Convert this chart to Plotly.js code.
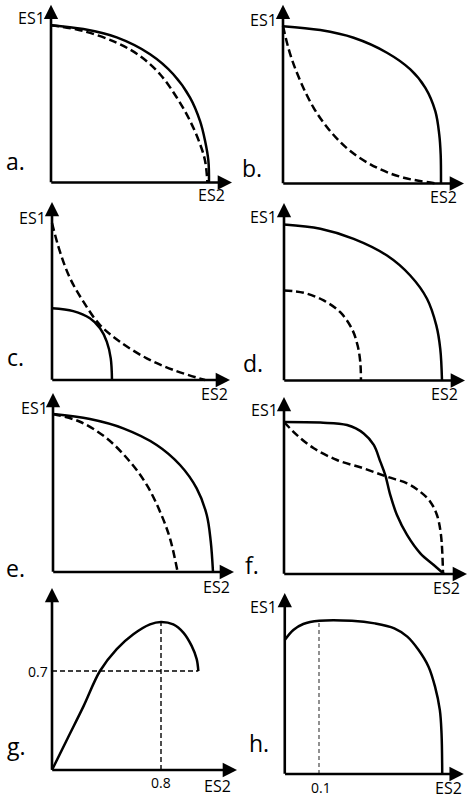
<!DOCTYPE html>
<html>
<head>
<meta charset="utf-8">
<script src="https://cdn.plot.ly/plotly-3.0.1.min.js"></script>
<style>
  html, body { margin: 0; padding: 0; background: #fff; }
  #chart { width: 474px; height: 799px; }
</style>
</head>
<body>
<div id="chart"></div>
<script>
// panel labels
var panelLetters = ["a.", "b.", "c.", "d.", "e.", "f.", "g.", "h."];
var yLabel = "ES1";
var xLabel = "ES2";

// a.
var aSolidX = [0, 0.205, 0.416, 0.627, 0.774, 0.880, 0.943, 0.975, 0.996, 1.0];
var aSolidY = [1, 0.975, 0.922, 0.815, 0.688, 0.540, 0.392, 0.266, 0.139, 0];
var aDashX = [0, 0.205, 0.416, 0.563, 0.690, 0.796, 0.880, 0.943, 0.975, 0.99];
var aDashY = [1, 0.962, 0.888, 0.804, 0.688, 0.540, 0.392, 0.245, 0.139, 0];

// b.
var bSolidX = [0, 0.236, 0.447, 0.658, 0.806, 0.901, 0.964, 0.989, 0.998, 1.0];
var bSolidY = [1, 0.975, 0.926, 0.831, 0.725, 0.608, 0.460, 0.311, 0.184, 0];
var bDashX = [0, 0.046, 0.110, 0.194, 0.299, 0.426, 0.595, 0.764, 0.975];
var bDashY = [1, 0.820, 0.651, 0.481, 0.333, 0.206, 0.100, 0.037, 0];

// c.
var cSolidX = [0, 0.139, 0.248, 0.314, 0.358, 0.384, 0.392];
var cSolidY = [0.457, 0.439, 0.393, 0.329, 0.244, 0.138, 0];
var cDashX = [0, 0.052, 0.118, 0.205, 0.314, 0.444, 0.619, 0.793, 1.0];
var cDashY = [1, 0.817, 0.648, 0.499, 0.350, 0.244, 0.138, 0.064, 0];

// d.
var dSolidX = [0, 0.230, 0.441, 0.652, 0.799, 0.905, 0.964, 0.989, 1.0];
var dSolidY = [1, 0.973, 0.908, 0.801, 0.673, 0.524, 0.353, 0.203, 0];
var dDashX = [0, 0.125, 0.251, 0.356, 0.430, 0.466, 0.483, 0.487];
var dDashY = [0.577, 0.562, 0.513, 0.438, 0.331, 0.224, 0.117, 0];

// e.
var eSolidX = [0, 0.231, 0.439, 0.648, 0.794, 0.898, 0.961, 0.986, 1.0];
var eSolidY = [1, 0.968, 0.909, 0.804, 0.677, 0.529, 0.361, 0.192, 0];
var eDashX = [0, 0.169, 0.336, 0.481, 0.586, 0.669, 0.731, 0.779];
var eDashY = [1, 0.951, 0.846, 0.698, 0.551, 0.382, 0.213, 0];

// f.
var fSolidX = [0, 0.227, 0.394, 0.498, 0.561, 0.602, 0.633, 0.664, 0.706, 0.769, 0.852, 0.936, 1.0];
var fSolidY = [1, 0.996, 0.980, 0.925, 0.849, 0.739, 0.651, 0.520, 0.388, 0.257, 0.136, 0.059, 0];
var fDashX = [0, 0.081, 0.186, 0.331, 0.498, 0.644, 0.769, 0.852, 0.914, 0.956, 0.981, 0.994];
var fDashY = [1, 0.914, 0.827, 0.750, 0.695, 0.640, 0.597, 0.541, 0.476, 0.388, 0.257, 0];

// g.
var gSolidX = [0, 0.115, 0.230, 0.352, 0.475, 0.597, 0.719, 0.800, 0.890, 0.964, 1.025, 1.062, 1.074];
var gSolidY = [0, 0.225, 0.448, 0.700, 0.855, 0.960, 1.030, 1.047, 1.030, 0.972, 0.878, 0.784, 0.700];
var gGuideHX = [0, 1.074];
var gGuideHY = [0.7, 0.7];
var gGuideVX = [0.8, 0.8];
var gGuideVY = [0, 1.047];
var gTickLabels = ["0.7", "0.8"];

// h.
var hSolidX = [0, 0.025, 0.054, 0.101, 0.196, 0.263, 0.320, 0.358, 0.391, 0.420, 0.439, 0.453, 0.458, 0.460];
var hSolidY = [0.870, 0.935, 0.974, 0.995, 0.995, 0.978, 0.946, 0.892, 0.805, 0.697, 0.567, 0.416, 0.264, 0];
var hGuideX = [0.1, 0.1];
var hGuideY = [0, 0.995];
var hTickLabels = ["0.1"];

// page geometry (pixels): origin, pixels per unit, arrow tips
var W = 474, H = 799;
var geom = [
  { ox: 51,  oy: 182.5, ux: 158,    uy: 158,   tipX: 232, tipY: 4 },
  { ox: 283, oy: 183.5, ux: 158,    uy: 158,   tipX: 464, tipY: 4 },
  { ox: 52,  oy: 380,   ux: 153,    uy: 157,   tipX: 230, tipY: 202 },
  { ox: 284, oy: 380.5, ux: 158,    uy: 156,   tipX: 465, tipY: 203 },
  { ox: 53,  oy: 572,   ux: 160,    uy: 158,   tipX: 234, tipY: 393 },
  { ox: 284, oy: 574,   ux: 160,    uy: 152,   tipX: 467, tipY: 397 },
  { ox: 52,  oy: 770,   ux: 136.25, uy: 141.4, tipX: 237, tipY: 588 },
  { ox: 285, oy: 774,   ux: 350,    uy: 154,   tipX: 468, tipY: 593 }
];

// label placement (pixel centres)
var yLabelPos = [[31.5, 18.5], [263, 19.5], [32.5, 218], [263.5, 217], [34, 408], [264, 410], null, [263, 607]];
var xLabelPos = [[211, 195], [443, 197], [214.5, 394], [444, 394], [216, 587], [446, 588], [217, 786], [448, 788]];
var letterPos = [[15, 161], [252, 168], [15, 357], [253, 363], [15, 568], [251.5, 565], [16.5, 746], [258.5, 743]];
var tickPos = { g: [[37.5, 671], [161, 782]], h: [[321, 787]] };

var FONT = "Open Sans, Liberation Sans, sans-serif";
var LW = 2.5;
var DASH = "8px,4px";

function px(x) { return x / W; }
function py(y) { return 1 - y / H; }
function suffix(i) { return i === 0 ? "" : String(i + 1); }

var curves = [
  [0, aSolidX, aSolidY, "solid"], [0, aDashX, aDashY, DASH],
  [1, bSolidX, bSolidY, "solid"], [1, bDashX, bDashY, DASH],
  [2, cSolidX, cSolidY, "solid"], [2, cDashX, cDashY, DASH],
  [3, dSolidX, dSolidY, "solid"], [3, dDashX, dDashY, DASH],
  [4, eSolidX, eSolidY, "solid"], [4, eDashX, eDashY, DASH],
  [5, fSolidX, fSolidY, "solid"], [5, fDashX, fDashY, DASH],
  [6, gSolidX, gSolidY, "solid"],
  [7, hSolidX, hSolidY, "solid"]
];

var data = curves.map(function (c) {
  var s = suffix(c[0]);
  return {
    x: c[1], y: c[2], xaxis: "x" + s, yaxis: "y" + s,
    type: "scatter", mode: "lines", hoverinfo: "skip",
    line: { color: "#000", width: LW, dash: c[3], shape: "spline", smoothing: 1 }
  };
});

// guide lines
data.push({ x: gGuideHX, y: gGuideHY, xaxis: "x7", yaxis: "y7", mode: "lines",
  line: { color: "#000", width: 1.4, dash: "5px,3px" } });
data.push({ x: gGuideVX, y: gGuideVY, xaxis: "x7", yaxis: "y7", mode: "lines",
  line: { color: "#000", width: 1.4, dash: "5px,3px" } });
data.push({ x: hGuideX, y: hGuideY, xaxis: "x8", yaxis: "y8", mode: "lines",
  line: { color: "#555", width: 1.3, dash: "4px,3px" } });

var layout = {
  width: W, height: H,
  margin: { l: 0, r: 0, t: 0, b: 0 },
  paper_bgcolor: "#fff", plot_bgcolor: "rgba(0,0,0,0)",
  showlegend: false,
  font: { family: FONT, color: "#000" },
  annotations: []
};

geom.forEach(function (g, i) {
  var s = suffix(i);
  var pad = 0.03;
  var xr = [-pad, (g.tipX - g.ox) / g.ux + pad];
  var yr = [-pad, (g.oy - g.tipY) / g.uy + pad];
  layout["xaxis" + s] = {
    visible: false, range: xr, fixedrange: true,
    domain: [px(g.ox + xr[0] * g.ux), px(g.ox + xr[1] * g.ux)],
    anchor: "y" + s
  };
  layout["yaxis" + s] = {
    visible: false, range: yr, fixedrange: true,
    domain: [py(g.oy - yr[0] * g.uy), py(g.oy - yr[1] * g.uy)],
    anchor: "x" + s
  };
  var ref = { xref: "x" + s, yref: "y" + s, axref: "x" + s, ayref: "y" + s };
  // x axis arrow
  layout.annotations.push(Object.assign({
    x: (g.tipX - g.ox) / g.ux, y: 0, ax: -1.25 / g.ux, ay: 0, text: "",
    showarrow: true, arrowhead: 2, arrowsize: 1.1, arrowwidth: 2.6, arrowcolor: "#000"
  }, ref));
  // y axis arrow
  layout.annotations.push(Object.assign({
    x: 0, y: (g.oy - g.tipY) / g.uy, ax: 0, ay: -1.25 / g.uy, text: "",
    showarrow: true, arrowhead: 2, arrowsize: 1.1, arrowwidth: 2.6, arrowcolor: "#000"
  }, ref));
});

function addText(txt, p, size) {
  layout.annotations.push({
    text: txt, xref: "paper", yref: "paper", x: px(p[0]), y: py(p[1]),
    xanchor: "center", yanchor: "middle", showarrow: false,
    font: { family: FONT, size: size, color: "#000" }
  });
}

panelLetters.forEach(function (t, i) {
  addText(t, letterPos[i], 23);
  if (yLabelPos[i]) addText(yLabel, yLabelPos[i], 16);
  addText(xLabel, xLabelPos[i], 16);
});
gTickLabels.forEach(function (t, i) { addText(t, tickPos.g[i], 14); });
hTickLabels.forEach(function (t, i) { addText(t, tickPos.h[i], 14); });

window.onload = function () {
  Plotly.newPlot("chart", data, layout, { displayModeBar: false, staticPlot: true });
};
</script>
</body>
</html>
